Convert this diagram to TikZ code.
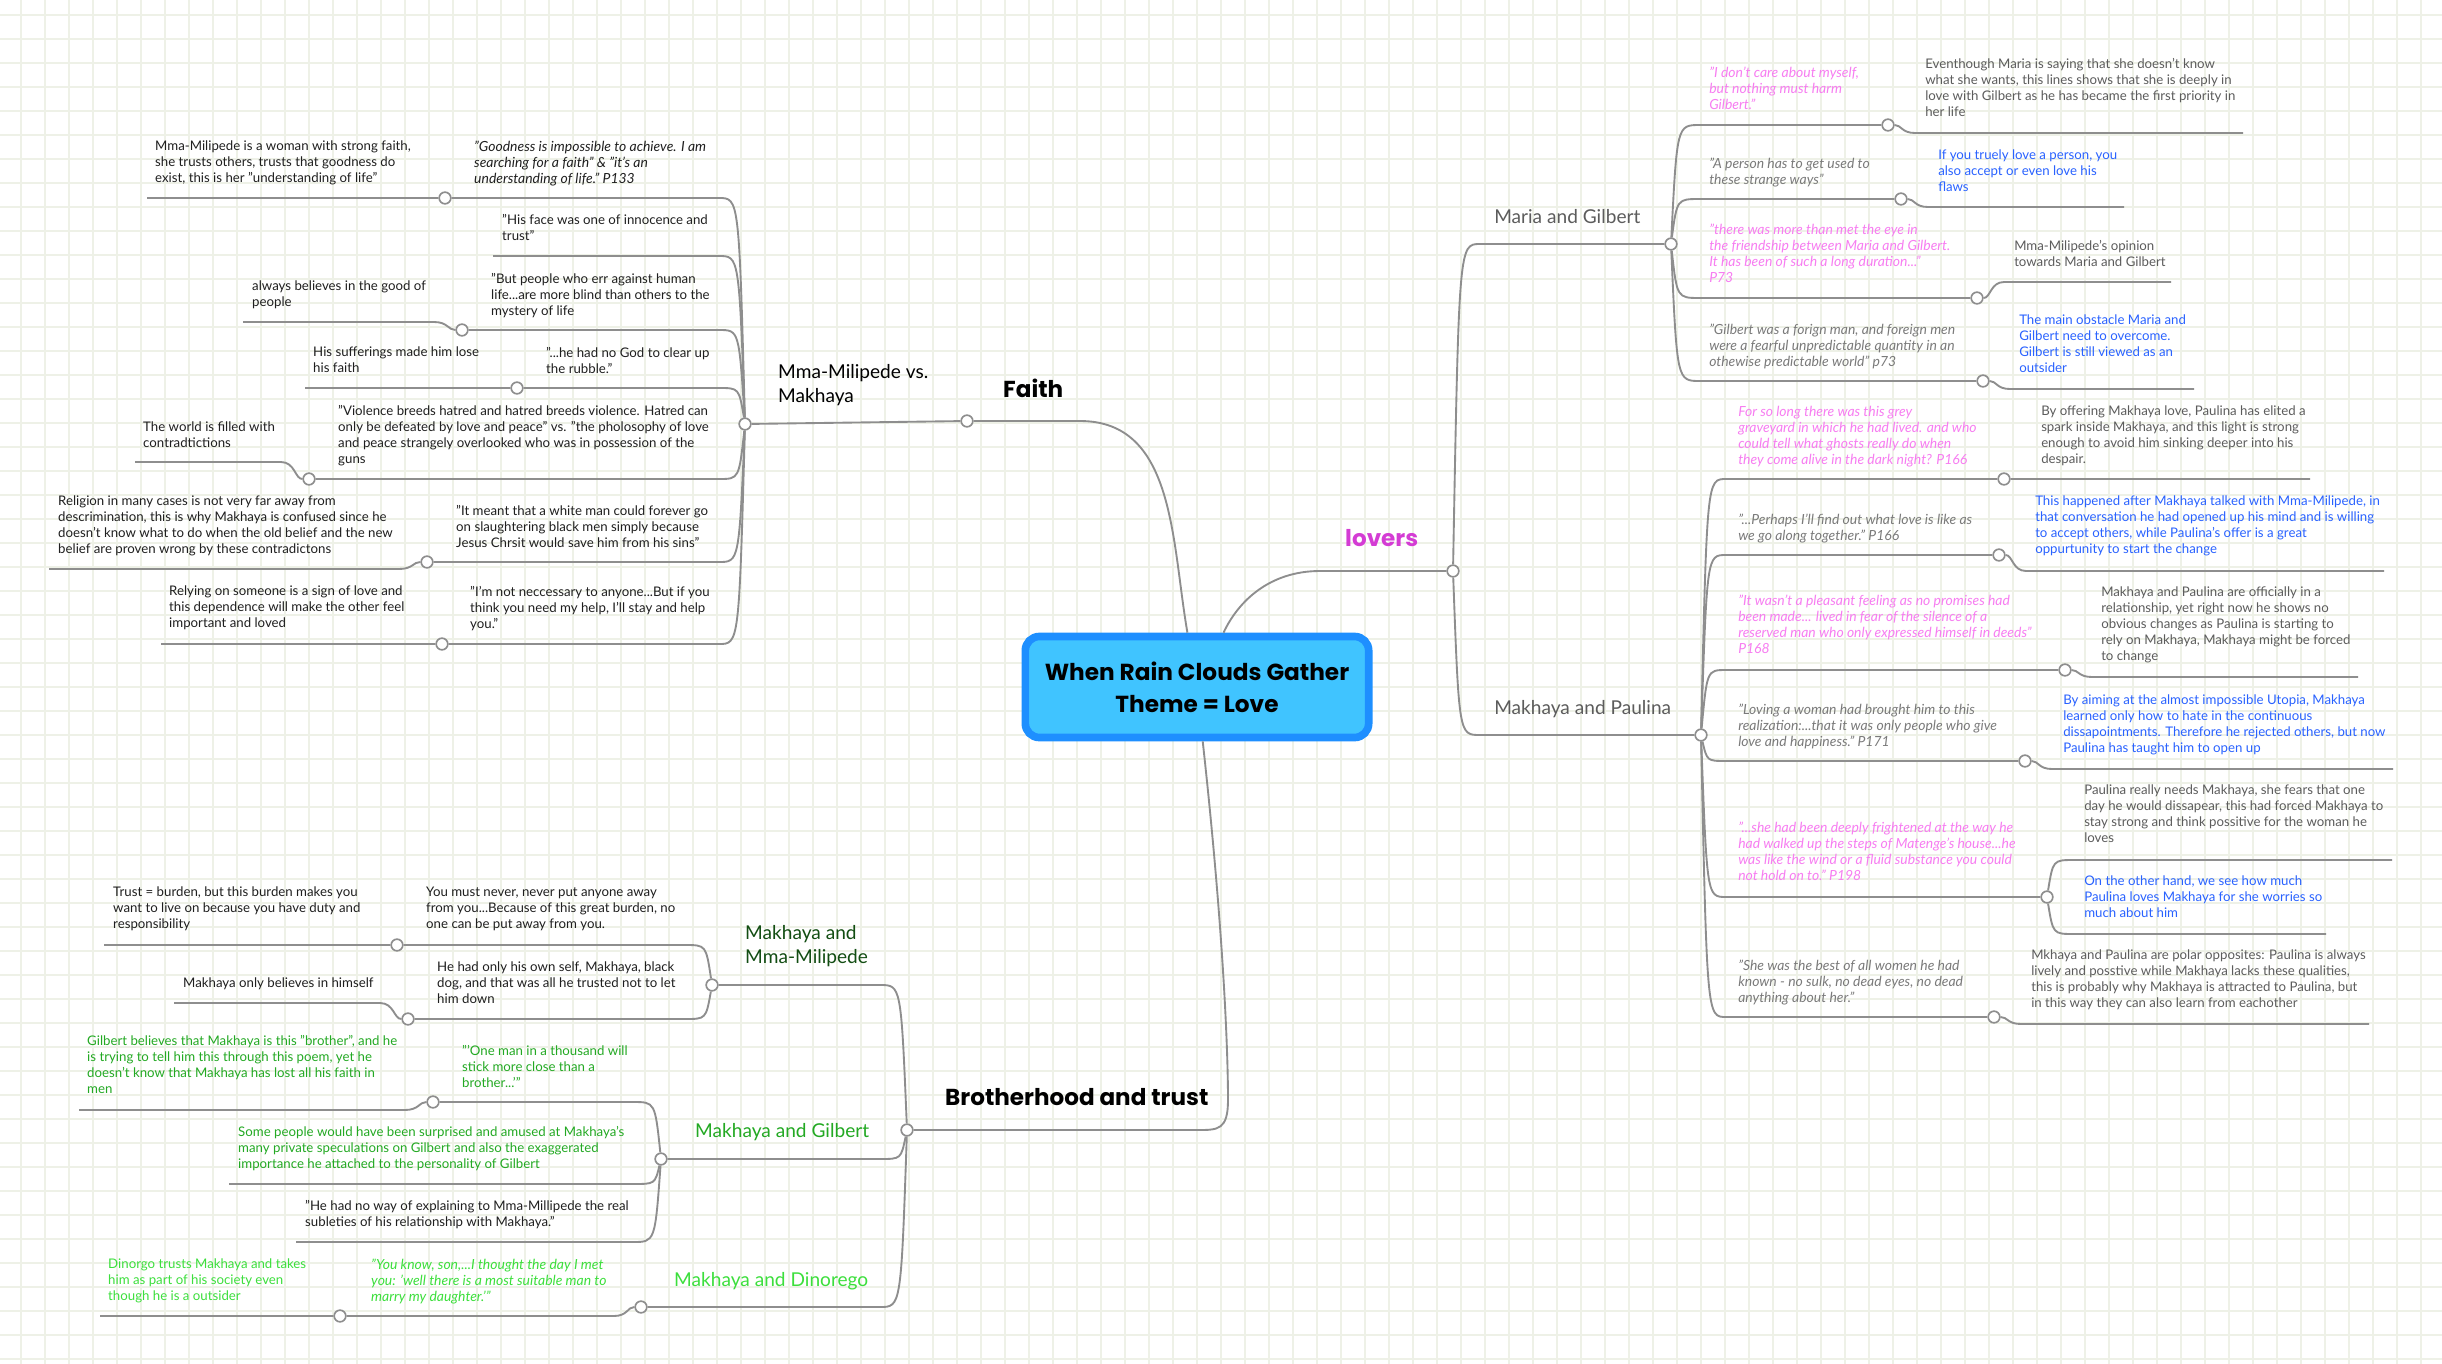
\documentclass[tikz,border=0pt]{standalone}
\usepackage{fontspec}
\setmainfont{Lato}
\newfontfamily\headfont{Poppins}
\usetikzlibrary{calc}
\definecolor{RainSky}{HTML}{40C4FF}
\definecolor{RainEdge}{HTML}{1E8FFF}
\definecolor{TwigGray}{HTML}{8E8E8E}
\definecolor{PaperGrid}{HTML}{EEF1E7}
\definecolor{NoteGray}{HTML}{5C5C5C}
\definecolor{QuoteGray}{HTML}{7A7A7A}
\definecolor{QuotePink}{HTML}{F77DF1}
\definecolor{NoteBlue}{HTML}{2962FF}
\definecolor{LoverPink}{HTML}{D43CD4}
\definecolor{LeafGreen}{HTML}{23A923}
\definecolor{LimeGreen}{HTML}{3CDF3C}
\definecolor{PineGreen}{HTML}{124D12}

\tikzset{
  gridline/.style={draw=PaperGrid, line width=1pt},
  twig/.style={draw=TwigGray, line width=1.6pt},
  knob/.style={circle, draw=TwigGray, line width=1.4pt, fill=white, inner sep=0pt, minimum size=3.5mm},
  elbow/.style={to path={.. controls ($(\tikztostart|-\tikztotarget)+(#1,0)$) .. (\tikztotarget)}},
  sbend/.style={to path={.. controls ($(\tikztostart)!0.5!(\tikztotarget|-\tikztostart)$) and ($(\tikztotarget)!0.5!(\tikztostart|-\tikztotarget)$) .. (\tikztotarget)}},
  rootbox/.style={rectangle, rounded corners=4.2mm, fill=RainSky, draw=RainEdge, line width=2.3mm,
    minimum width=103mm, minimum height=30.3mm, align=center, inner sep=0pt,
    font=\headfont\bfseries\fontsize{19.8}{27}\selectfont},
  mainlabel/.style={anchor=west, inner sep=0pt, font=\headfont\bfseries\fontsize{19.7}{23}\selectfont},
  sublabel/.style={anchor=west, inner sep=0pt, font=\fontsize{16.3}{20.5}\selectfont},
  sublabel2/.style={sublabel, anchor=north west, align=left, yshift=3mm},
  blacknote/.style={anchor=north west, inner sep=0pt, align=left, yshift=2.2mm, text=black!88,
    font=\fontsize{11.3}{13.66}\selectfont},
  greynote/.style={blacknote, text=NoteGray},
  bluenote/.style={blacknote, text=NoteBlue},
  greennote/.style={blacknote, text=LeafGreen},
  limenote/.style={blacknote, text=LimeGreen},
  blackquote/.style={blacknote, font=\fontsize{11.9}{13.66}\selectfont\itshape},
  greyquote/.style={blackquote, text=QuoteGray},
  pinkquote/.style={blackquote, text=QuotePink},
  limequote/.style={blackquote, text=LimeGreen}
}

\begin{document}
\begin{tikzpicture}[x=0.3mm, y=-0.3mm]
% Paper and grid
\useasboundingbox (0,0) rectangle (2442,1364);
\fill[white] (0,0) rectangle (2442,1364);
\foreach \gx in {21,45,...,2442} \draw[gridline] (\gx,0) -- (\gx,1364);
\foreach \gy in {15,39,...,1364} \draw[gridline] (0,\gy) -- (2442,\gy);

% Root topic
\node[rootbox] (root) at (1197,687) {When Rain Clouds Gather\\Theme = Love};

% Main branches
\node[knob] (faith) at (967,421) {};
\node[knob] (lovers) at (1453,571) {};
\node[knob] (bro) at (907,1130) {};
\coordinate (faithC) at (1080,421);
\coordinate (loversC) at (1320,571);
\coordinate (broV) at (1228,1100);
\coordinate (broC) at (1198,1130);
\draw[twig] (root.100) .. controls +(-16,-92) and +(95,0) .. (faithC) -- (faith);
\draw[twig] (root.64) .. controls +(15,-32) and +(-50,0) .. (loversC) -- (lovers);
\draw[twig] (root.276) .. controls +(22,200) and +(0,-40) .. (broV) .. controls +(0,30) and +(20,0) .. (broC) -- (bro);
\node[mainlabel] (faithT) at (1003,388) {Faith};
\node[mainlabel, text=LoverPink] (loversT) at (1345,538) {lovers};
\node[mainlabel] (broT) at (945,1097) {Brotherhood and trust};

% Faith: Mma-Milipede vs. Makhaya
\node[knob] (mvm) at (745,424) {};
\draw[twig] (faith) -- (mvm);
\node[sublabel2] (mvmT) at (778,374) {Mma-Milipede vs.\\Makhaya};

\coordinate (f1c) at (719,198); \node[knob] (f1) at (445,198) {}; \coordinate (f1e) at (147,198);
\draw[twig] (mvm) to[elbow=-6] (f1c) -- (f1) -- (f1e);
\node[blackquote] (f1q) at (474,148) {"Goodness is impossible to achieve. I am\\searching for a faith" \& "it's an\\understanding of life." P133};
\node[blacknote] (f1n) at (155,148) {Mma-Milipede is a woman with strong faith,\\she trusts others, trusts that goodness do\\exist, this is her "understanding of life"};

\coordinate (f2c) at (719,256); \coordinate (f2e) at (493,256);
\draw[twig] (mvm) to[elbow=-6] (f2c) -- (f2e);
\node[blacknote] (f2q) at (502,221) {"His face was one of innocence and\\trust"};

\coordinate (f3c) at (719,330); \node[knob] (f3) at (462,330) {}; \coordinate (f3s) at (434,322); \coordinate (f3e) at (243,322);
\draw[twig] (mvm) to[elbow=-6] (f3c) -- (f3) to[sbend] (f3s) -- (f3e);
\node[blacknote] (f3q) at (491,280) {"But people who err against human\\life...are more blind than others to the\\mystery of life};
\node[blacknote] (f3n) at (252,288) {always believes in the good of\\people};

\coordinate (f4c) at (719,388); \node[knob] (f4) at (517,388) {}; \coordinate (f4e) at (305,388);
\draw[twig] (mvm) to[elbow=-6] (f4c) -- (f4) -- (f4e);
\node[blacknote] (f4q) at (546,354) {"...he had no God to clear up\\the rubble."};
\node[blacknote] (f4n) at (313,354) {His sufferings made him lose\\his faith};

\coordinate (f5c) at (719,479); \node[knob] (f5) at (309,479) {}; \coordinate (f5s) at (281,462); \coordinate (f5e) at (135,462);
\draw[twig] (mvm) to[elbow=-6] (f5c) -- (f5) to[sbend] (f5s) -- (f5e);
\node[blacknote] (f5q) at (338,412) {"Violence breeds hatred and hatred breeds violence. Hatred can\\only be defeated by love and peace" vs. "the pholosophy of love\\and peace strangely overlooked who was in possession of the\\guns};
\node[blacknote] (f5n) at (143,429) {The world is filled with\\contradtictions};

\coordinate (f6c) at (719,562); \node[knob] (f6) at (427,562) {}; \coordinate (f6s) at (399,569); \coordinate (f6e) at (49,569);
\draw[twig] (mvm) to[elbow=-6] (f6c) -- (f6) to[sbend] (f6s) -- (f6e);
\node[blacknote] (f6q) at (456,512) {"It meant that a white man could forever go\\on slaughtering black men simply because\\Jesus Chrsit would save him from his sins"};
\node[blacknote] (f6n) at (58,503) {Religion in many cases is not very far away from\\descrimination, this is why Makhaya is confused since he\\doesn't know what to do when the old belief and the new\\belief are proven wrong by these contradictons};

\coordinate (f7c) at (719,644); \node[knob] (f7) at (442,644) {}; \coordinate (f7e) at (161,644);
\draw[twig] (mvm) to[elbow=-6] (f7c) -- (f7) -- (f7e);
\node[blacknote] (f7q) at (470,593) {"I'm not neccessary to anyone...But if you\\think you need my help, I'll stay and help\\you."};
\node[blacknote] (f7n) at (169,593) {Relying on someone is a sign of love and\\this dependence will make the other feel\\important and loved};

% lovers: Maria and Gilbert
\node[knob] (mag) at (1671,244) {};
\coordinate (magC) at (1480,244);
\draw[twig] (lovers) to[elbow=6] (magC) -- (mag);
\node[sublabel, text=NoteGray] (magT) at (1494,217) {Maria and Gilbert};

\coordinate (g1c) at (1700,125); \node[knob] (g1) at (1888,125) {}; \coordinate (g1s) at (1915,133); \coordinate (g1e) at (2243,133);
\draw[twig] (mag) to[elbow=6] (g1c) -- (g1) to[sbend] (g1s) -- (g1e);
\node[pinkquote] (g1q) at (1709,74) {"I don't care about myself,\\but nothing must harm\\Gilbert."};
\node[greynote] (g1n) at (1925,65) {Eventhough Maria is saying that she doesn't know\\what she wants, this lines shows that she is deeply in\\love with Gilbert as he has became the first priority in\\her life};

\coordinate (g2c) at (1700,199); \node[knob] (g2) at (1901,199) {}; \coordinate (g2s) at (1928,207); \coordinate (g2e) at (2124,207);
\draw[twig] (mag) to[elbow=6] (g2c) -- (g2) to[sbend] (g2s) -- (g2e);
\node[greyquote] (g2q) at (1709,165) {"A person has to get used to\\these strange ways"};
\node[bluenote] (g2n) at (1938,157) {If you truely love a person, you\\also accept or even love his\\flaws};

\coordinate (g3c) at (1700,298); \node[knob] (g3) at (1977,298) {}; \coordinate (g3s) at (2004,282); \coordinate (g3e) at (2171,282);
\draw[twig] (mag) to[elbow=6] (g3c) -- (g3) to[sbend] (g3s) -- (g3e);
\node[pinkquote] (g3q) at (1709,231) {"there was more than met the eye in\\the friendship between Maria and Gilbert.\\It has been of such a long duration..."\\P73};
\node[greynote] (g3n) at (2014,247) {Mma-Milipede's opinion\\towards Maria and Gilbert};

\coordinate (g4c) at (1700,381); \node[knob] (g4) at (1983,381) {}; \coordinate (g4s) at (2010,389); \coordinate (g4e) at (2194,389);
\draw[twig] (mag) to[elbow=6] (g4c) -- (g4) to[sbend] (g4s) -- (g4e);
\node[greyquote] (g4q) at (1709,331) {"Gilbert was a forign man, and foreign men\\were a fearful unpredictable quantity in an\\othewise predictable world" p73};
\node[bluenote] (g4n) at (2019,322) {The main obstacle Maria and\\Gilbert need to overcome.\\Gilbert is still viewed as an\\outsider};

% lovers: Makhaya and Paulina
\node[knob] (map) at (1701,735) {};
\coordinate (mapC) at (1480,735);
\draw[twig] (lovers) to[elbow=6] (mapC) -- (map);
\node[sublabel, text=NoteGray] (mapT) at (1494,709) {Makhaya and Paulina};

\coordinate (p1c) at (1726,479); \node[knob] (p1) at (2004,479) {}; \coordinate (p1e) at (2310,479);
\draw[twig] (map) to[elbow=6] (p1c) -- (p1) -- (p1e);
\node[pinkquote] (p1q) at (1738,413) {For so long there was this grey\\graveyard in which he had lived. and who\\could tell what ghosts really do when\\they come alive in the dark night? P166};
\node[greynote] (p1n) at (2041,413) {By offering Makhaya love, Paulina has elited a\\spark inside Makhaya, and this light is strong\\enough to avoid him sinking deeper into his\\despair.};

\coordinate (p2c) at (1726,555); \node[knob] (p2) at (1999,555) {}; \coordinate (p2s) at (2026,571); \coordinate (p2e) at (2384,571);
\draw[twig] (map) to[elbow=6] (p2c) -- (p2) to[sbend] (p2s) -- (p2e);
\node[greyquote] (p2q) at (1738,521) {"...Perhaps I'll find out what love is like as\\we go along together." P166};
\node[bluenote] (p2n) at (2035,503) {This happened after Makhaya talked with Mma-Milipede, in\\that conversation he had opened up his mind and is willing\\to accept others, while Paulina's offer is a great\\oppurtunity to start the change};

\coordinate (p3c) at (1726,670); \node[knob] (p3) at (2065,670) {}; \coordinate (p3s) at (2092,677); \coordinate (p3e) at (2358,677);
\draw[twig] (map) to[elbow=6] (p3c) -- (p3) to[sbend] (p3s) -- (p3e);
\node[pinkquote] (p3q) at (1738,602) {"It wasn't a pleasant feeling as no promises had\\been made... lived in fear of the silence of a\\reserved man who only expressed himself in deeds"\\P168};
\node[greynote] (p3n) at (2101,594) {Makhaya and Paulina are officially in a\\relationship, yet right now he shows no\\obvious changes as Paulina is starting to\\rely on Makhaya, Makhaya might be forced\\to change};

\coordinate (p4c) at (1726,761); \node[knob] (p4) at (2025,761) {}; \coordinate (p4s) at (2052,769); \coordinate (p4e) at (2393,769);
\draw[twig] (map) to[elbow=6] (p4c) -- (p4) to[sbend] (p4s) -- (p4e);
\node[greyquote] (p4q) at (1738,711) {"Loving a woman had brought him to this\\realization:...that it was only people who give\\love and happiness." P171};
\node[bluenote] (p4n) at (2063,702) {By aiming at the almost impossible Utopia, Makhaya\\learned only how to hate in the continuous\\dissapointments. Therefore he rejected others, but now\\Paulina has taught him to open up};

\coordinate (p5c) at (1726,897); \node[knob] (p5) at (2047,897) {};
\coordinate (p5u) at (2074,860); \coordinate (p5ue) at (2392,860);
\coordinate (p5d) at (2074,934); \coordinate (p5de) at (2326,934);
\draw[twig] (map) to[elbow=6] (p5c) -- (p5);
\draw[twig] (p5) to[elbow=6] (p5u) -- (p5ue);
\draw[twig] (p5) to[elbow=6] (p5d) -- (p5de);
\node[pinkquote] (p5q) at (1738,829) {"...she had been deeply frightened at the way he\\had walked up the steps of Matenge's house...he\\was like the wind or a fluid substance you could\\not hold on to." P198};
\node[greynote] (p5n) at (2084,792) {Paulina really needs Makhaya, she fears that one\\day he would dissapear, this had forced Makhaya to\\stay strong and think possitive for the woman he\\loves};
\node[bluenote] (p5m) at (2084,883) {On the other hand, we see how much\\Paulina loves Makhaya for she worries so\\much about him};

\coordinate (p6c) at (1726,1017); \node[knob] (p6) at (1994,1017) {}; \coordinate (p6s) at (2021,1024); \coordinate (p6e) at (2369,1024);
\draw[twig] (map) to[elbow=6] (p6c) -- (p6) to[sbend] (p6s) -- (p6e);
\node[greyquote] (p6q) at (1738,967) {"She was the best of all women he had\\known - no sulk, no dead eyes, no dead\\anything about her."};
\node[greynote] (p6n) at (2031,957) {Mkhaya and Paulina are polar opposites: Paulina is always\\lively and posstive while Makhaya lacks these qualities,\\this is probably why Makhaya is attracted to Paulina, but\\in this way they can also learn from eachother};

% Brotherhood and trust
\node[knob] (bmm) at (712,985) {};
\node[knob] (bmg) at (661,1159) {};
\node[knob] (bmd) at (641,1307) {};
\coordinate (bmmC) at (880,985); \coordinate (bmgC) at (880,1159); \coordinate (bmdC) at (880,1307);
\draw[twig] (bro) to[elbow=-6] (bmmC) -- (bmm);
\draw[twig] (bro) to[elbow=-6] (bmgC) -- (bmg);
\draw[twig] (bro) to[elbow=-6] (bmdC) -- (bmd);
\node[sublabel2, text=PineGreen] (bmmT) at (745,935) {Makhaya and\\Mma-Milipede};
\node[sublabel, text=LeafGreen] (bmgT) at (695,1132) {Makhaya and Gilbert};
\node[sublabel, text=LimeGreen] (bmdT) at (674,1281) {Makhaya and Dinorego};

\coordinate (b1c) at (685,945); \node[knob] (b1) at (397,945) {}; \coordinate (b1e) at (104,945);
\draw[twig] (bmm) to[elbow=-6] (b1c) -- (b1) -- (b1e);
\node[blacknote] (b1q) at (426,894) {You must never, never put anyone away\\from you...Because of this great burden, no\\one can be put away from you.};
\node[blacknote] (b1n) at (113,894) {Trust = burden, but this burden makes you\\want to live on because you have duty and\\responsibility};

\coordinate (b2c) at (685,1019); \node[knob] (b2) at (408,1019) {}; \coordinate (b2s) at (380,1003); \coordinate (b2e) at (174,1003);
\draw[twig] (bmm) to[elbow=-6] (b2c) -- (b2) to[sbend] (b2s) -- (b2e);
\node[blacknote] (b2q) at (437,969) {He had only his own self, Makhaya, black\\dog, and that was all he trusted not to let\\him down};
\node[blacknote] (b2n) at (183,985) {Makhaya only believes in himself};

\coordinate (b3c) at (633,1102); \node[knob] (b3) at (433,1102) {}; \coordinate (b3s) at (405,1110); \coordinate (b3e) at (79,1110);
\draw[twig] (bmg) to[elbow=-6] (b3c) -- (b3) to[sbend] (b3s) -- (b3e);
\node[greennote] (b3q) at (462,1052) {"'One man in a thousand will\\stick more close than a\\brother...'"};
\node[greennote] (b3n) at (87,1042) {Gilbert believes that Makhaya is this "brother", and he\\is trying to tell him this through this poem, yet he\\doesn't know that Makhaya has lost all his faith in\\men};

\coordinate (b4c) at (633,1184); \coordinate (b4e) at (229,1184);
\draw[twig] (bmg) to[elbow=-6] (b4c) -- (b4e);
\node[greennote] (b4q) at (238,1133) {Some people would have been surprised and amused at Makhaya's\\many private speculations on Gilbert and also the exaggerated\\importance he attached to the personality of Gilbert};

\coordinate (b5c) at (633,1242); \coordinate (b5e) at (296,1242);
\draw[twig] (bmg) to[elbow=-6] (b5c) -- (b5e);
\node[blacknote] (b5q) at (305,1207) {"He had no way of explaining to Mma-Millipede the real\\subleties of his relationship with Makhaya."};

\coordinate (b6s) at (614,1316); \node[knob] (b6) at (340,1316) {}; \coordinate (b6e) at (100,1316);
\draw[twig] (bmd) to[sbend] (b6s) -- (b6) -- (b6e);
\node[limequote] (b6q) at (371,1266) {"You know, son,...I thought the day I met\\you: 'well there is a most suitable man to\\marry my daughter.'"};
\node[limenote] (b6n) at (108,1266) {Dinorgo trusts Makhaya and takes\\him as part of his society even\\though he is a outsider};
\end{tikzpicture}
\end{document}
